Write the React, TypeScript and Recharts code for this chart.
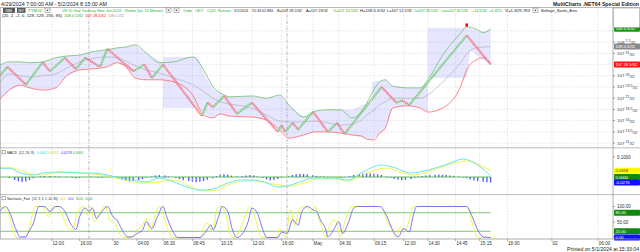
import React from 'react';
import { ComposedChart, Line, Area, Bar, XAxis, YAxis, ReferenceLine, ReferenceDot } from 'recharts';

const FONT = '"Liberation Sans", Arial, Helvetica, sans-serif';
const W = 640;
const H = 252;
const AXIS_W = 27;
const X_DOMAIN: [number, number] = [0, 331];

// ---------- time axis (renko brick index) ----------
const timeTickBars = [28, 43, 61, 74, 88, 104, 119, 136, 152, 169, 183, 202, 218, 231, 246, 259, 274, 298, 323];
const timeTickLabels = ['12:00', '16:00', '30', '04:00', '06:30', '08:45', '10:15', '12:00', '16:00', 'May', '04:30', '09:15', '12:00', '14:30', '14:45', '15:15', '18:00', '02', '06:00'];
const sessionBreakBars = [48, 155];

// ---------- price panel (price in 32nds above 107) ----------
const priceGridValues = [11, 13.5, 16, 18.5, 21, 23.5, 26, 28.5, 31, 33.5, 36];
const priceTickValues = [11, 13.5, 16, 18.5, 21, 23.5, 26, 31, 33.5];

const renkoPivotBars = [0, 4, 14, 23, 27, 35, 41, 46, 54, 58, 72, 78, 82, 88, 109, 112, 115, 121, 128, 136, 150, 152, 154, 158, 161, 169, 177, 182, 186, 206, 214, 217, 221, 252, 265];
const renkoPivotPrices = [26, 28, 24, 29, 27, 30, 27.5, 30, 28, 32, 27, 28.5, 25.5, 28.5, 17, 20, 19, 21.5, 17.5, 20, 13.5, 15, 13.5, 15.5, 14, 18, 13.5, 15.5, 13, 23.5, 20, 20.5, 19.5, 35, 28.5];

const bandBars = [0, 5, 11, 16, 23, 30, 36, 43, 49, 58, 63, 68, 73, 79, 86, 94, 104, 110, 115, 119, 124, 136, 144, 151, 156, 164, 170, 177, 184, 190, 195, 198, 202, 205, 208, 212, 220, 227, 231, 239, 249, 252, 257, 261, 265];
const upperBand = [28.4, 29.1, 29.1, 28.9, 29.1, 30.0, 30.4, 30.6, 31.3, 31.8, 32.2, 32.4, 32.9, 31.1, 28.9, 29.1, 30.2, 27.3, 23.5, 22.2, 21.3, 21.5, 21.0, 21.7, 19.5, 16.8, 18.1, 18.4, 18.4, 16.6, 17.9, 19.9, 23.0, 24.6, 25.1, 23.7, 23.3, 23.3, 25.1, 30.6, 35.6, 36.9, 36.4, 35.6, 36.5];
const midBand = [24.4, 26.4, 26.0, 25.7, 26.0, 26.4, 27.7, 29.1, 29.75, 30.2, 30.0, 29.3, 28.2, 27.3, 26.6, 25.5, 24.0, 22.5, 21.0, 20.2, 19.7, 18.8, 17.25, 15.9, 15.7, 15.7, 15.9, 15.5, 15.0, 15.2, 16.1, 17.25, 18.4, 19.5, 20.2, 21.0, 21.0, 21.0, 21.7, 24.6, 29.1, 30.9, 32.2, 32.4, 32.5];
const lowerBand = [20.8, 22.8, 23.9, 23.3, 22.8, 23.3, 26.0, 27.3, 27.5, 28.0, 28.9, 28.0, 25.5, 25.1, 25.1, 24.6, 21.7, 17.25, 16.6, 17.5, 17.0, 16.8, 16.1, 13.9, 12.1, 12.8, 13.5, 13.5, 13.2, 12.8, 12.6, 11.9, 11.7, 13.2, 14.3, 18.8, 19.3, 18.8, 17.9, 18.8, 23.9, 27.3, 29.5, 30.0, 28.5];

const fillBars = [0, 5, 11, 16, 23, 30, 36, 43, 49, 58, 63, 68, 73, 79, 88, 88, 107, 111, 115, 119, 124, 136, 144, 151, 156, 164, 170, 177, 184, 190, 198, 201, 201, 208, 212, 220, 227, 231, 231, 252, 254, 259, 265];
const fillTop = [28.4, 29.1, 29.1, 28.9, 29.1, 30.0, 30.4, 30.6, 31.3, 31.8, 32.2, 32.4, 32.9, 31.1, 28.9, 30.2, 30.2, 25.7, 23.0, 22.2, 21.3, 21.5, 21.0, 21.7, 19.5, 16.8, 18.1, 18.4, 18.4, 18.4, 19.9, 19.9, 24.6, 25.1, 23.7, 23.3, 23.3, 24.6, 36.7, 36.7, 36.6, 35.8, 36.2];
const fillBottom = [20.8, 22.8, 23.9, 23.3, 22.8, 23.3, 26.0, 27.3, 27.5, 28.0, 28.9, 28.0, 25.5, 25.1, 25.1, 18.8, 18.8, 17.25, 16.6, 17.5, 17.0, 16.8, 16.1, 13.9, 12.1, 12.8, 13.5, 13.5, 13.2, 12.8, 11.9, 11.7, 11.7, 14.3, 18.8, 19.3, 18.8, 17.9, 25.5, 25.5, 31.8, 30.0, 28.5];

const signalMarkerBar = 252;
const signalMarkerPrice = 37.3;
const priceBadgeValues = [36.5, 32.5, 28.5];

// ---------- MACD panel ----------
const macdBars = [0, 5, 11, 18, 23, 32, 42, 49, 58, 65, 72, 79, 86, 94, 101, 108, 115, 123, 130, 137, 144, 150, 155, 162, 169, 173, 180, 188, 195, 206, 212, 222, 231, 242, 250, 258, 265];
const macdValues = [0.0435, 0.0435, 0.02, 0.01, 0.02, 0.025, 0.02, 0.02, 0.01, -0.005, -0.015, -0.025, -0.005, -0.025, -0.05, -0.065, -0.06, -0.03, -0.015, -0.015, -0.03, -0.05, -0.045, -0.025, -0.005, -0.005, -0.005, -0.015, 0.02, 0.06, 0.05, 0.02, 0.035, 0.065, 0.09, 0.06, 0.0041];
const signalBars = [0, 7, 15, 22, 29, 36, 43, 50, 59, 69, 77, 85, 94, 101, 110, 117, 126, 135, 142, 150, 157, 164, 171, 180, 188, 198, 209, 216, 223, 234, 245, 252, 259, 265];
const signalValues = [0.05, 0.045, 0.02, 0.01, 0.02, 0.025, 0.02, 0.015, 0.005, -0.02, -0.03, -0.025, -0.015, -0.04, -0.07, -0.065, -0.03, -0.02, -0.025, -0.04, -0.045, -0.03, -0.01, -0.01, -0.02, 0.02, 0.045, 0.025, 0.01, 0.035, 0.07, 0.08, 0.06, 0.0318];
const histBars = [5, 8, 10, 12, 14, 16, 18, 22, 24, 27, 30, 32, 36, 39, 41, 43, 49, 53, 55, 59, 64, 66, 68, 70, 72, 75, 77, 79, 82, 84, 86, 89, 91, 95, 97, 99, 102, 104, 106, 108, 110, 112, 115, 117, 119, 121, 123, 125, 128, 131, 133, 135, 137, 139, 142, 144, 146, 148, 150, 152, 156, 158, 160, 162, 164, 166, 169, 171, 173, 175, 177, 179, 182, 184, 186, 189, 191, 194, 196, 198, 200, 202, 204, 206, 209, 211, 213, 215, 217, 219, 222, 224, 226, 228, 230, 232, 235, 237, 239, 241, 243, 245, 248, 250, 252, 254, 256, 258, 261, 263, 265];
const histValues = [-0.005, -0.015, -0.022, -0.025, -0.022, -0.015, -0.006, 0.003, 0.005, 0.005, 0.003, 0.002, 0.001, -0.004, -0.006, -0.004, 0.002, -0.004, -0.003, 0.001, -0.008, -0.015, -0.02, -0.022, -0.02, -0.015, -0.01, -0.004, 0.003, 0.008, 0.01, 0.008, 0.003, -0.004, -0.01, -0.016, -0.02, -0.024, -0.026, -0.024, -0.02, -0.014, -0.006, 0.005, 0.012, 0.014, 0.012, 0.007, 0.002, 0.004, 0.008, 0.01, 0.008, 0.003, -0.005, -0.012, -0.016, -0.015, -0.01, -0.003, 0.004, 0.01, 0.014, 0.016, 0.016, 0.014, 0.01, 0.006, 0.003, 0.002, -0.003, -0.003, -0.002, -0.004, -0.002, 0.004, 0.01, 0.014, 0.017, 0.018, 0.017, 0.016, 0.014, 0.01, 0.003, -0.004, -0.01, -0.014, -0.016, -0.014, -0.01, -0.004, 0.002, 0.005, 0.008, 0.01, 0.011, 0.012, 0.011, 0.01, 0.008, 0.006, 0.003, -0.002, -0.006, -0.012, -0.017, -0.021, -0.024, -0.026, -0.028];
const macdTickValues = [0.1];
const macdBadgeValues = [0.0318, 0, -0.0276];

// ---------- Stochastic panel ----------
const stochDBars = [0, 3, 5, 8, 11, 14, 15, 18, 21, 24, 27, 30, 32, 35, 38, 41, 43, 46, 48, 50, 52, 55, 58, 61, 63, 66, 69, 71, 74, 77, 79, 82, 85, 88, 90, 93, 96, 108, 111, 114, 115, 118, 120, 123, 125, 128, 131, 134, 136, 139, 142, 144, 150, 152, 155, 158, 161, 163, 166, 169, 171, 173, 176, 177, 180, 183, 185, 188, 191, 193, 205, 209, 212, 215, 218, 221, 223, 225, 252, 255, 258, 261, 265];
const stochDValues = [84, 100, 84, 35, 2, 2, 13, 46, 100, 100, 84, 100, 100, 84, 46, 26, 67, 95, 84, 95, 62, 84, 100, 67, 57, 24, 2, 2, 13, 24, 51, 29, 67, 100, 67, 24, 0, 0, 18, 40, 24, 67, 100, 84, 35, 0, 13, 51, 95, 78, 24, 0, 0, 18, 13, 57, 40, 84, 100, 89, 84, 57, 24, 2, 24, 51, 13, 46, 95, 100, 100, 67, 24, 2, 29, 18, 67, 100, 100, 67, 24, 2, 0];
const stochKBars = [0, 4, 7, 9, 14, 16, 19, 23, 26, 29, 31, 34, 37, 39, 42, 45, 47, 49, 51, 54, 57, 59, 62, 65, 68, 71, 74, 77, 79, 81, 84, 86, 89, 92, 94, 108, 110, 112, 115, 117, 119, 122, 124, 126, 129, 132, 135, 138, 141, 143, 149, 151, 154, 157, 159, 162, 165, 168, 170, 173, 176, 178, 181, 184, 186, 189, 191, 206, 209, 212, 214, 216, 219, 221, 223, 252, 255, 258, 265];
const stochKValues = [100, 84, 24, 0, 0, 35, 100, 100, 67, 100, 100, 67, 29, 24, 84, 100, 73, 100, 51, 84, 100, 57, 46, 8, 0, 0, 24, 40, 62, 18, 78, 100, 57, 8, 0, 0, 35, 46, 18, 89, 100, 73, 13, 0, 18, 62, 100, 57, 2, 0, 0, 29, 2, 89, 40, 95, 100, 84, 100, 46, 2, 40, 57, 2, 46, 95, 100, 100, 51, 24, 2, 35, 24, 57, 100, 100, 46, 0, 0];
const stochTickValues = [100, 50];
const stochLevels = [80, 20];
const stochBadgeValues = [80, 20, 0];

// ---------- derived tables for the library ----------
const lastBar = renkoPivotBars[renkoPivotBars.length - 1];
const bandRows = bandBars.map((x, i) => ({ x, upper: upperBand[i], mid: midBand[i], lower: lowerBand[i] }));
const fillRows = fillBars.map((x, i) => ({ x, area: [fillBottom[i], fillTop[i]] }));
const macdRows = [
  ...macdBars.map((x, i) => ({ x, macd: macdValues[i] } as any)),
  ...signalBars.map((x, i) => ({ x, signal: signalValues[i] } as any)),
].sort((a, b) => a.x - b.x);
const histRows = histBars.map((x, i) => ({ x, hist: histValues[i] }));
const stochRows = [
  ...stochKBars.map((x, i) => ({ x, k: stochKValues[i] } as any)),
  ...stochDBars.map((x, i) => ({ x, d: stochDValues[i] } as any)),
].sort((a, b) => a.x - b.x);

const fmtPrice = (v: number) => (v >= 32 ? `108 ${v - 32}/32` : `107 ${v}/32`);

// approximate Arial advance widths (em) to fit text into its measured span
const charEm = (ch: string) => {
  if (/[0-9]/.test(ch)) return 0.556;
  if (/[ .,:;/]/.test(ch)) return 0.278;
  if (/[il]/.test(ch)) return 0.222;
  if (/[tfj]/.test(ch)) return 0.278;
  if (ch === 'r' || ch === '(' || ch === ')' || ch === '-') return 0.333;
  if (ch === 'm') return 0.833;
  if (ch === 'w') return 0.722;
  if (ch === '+' || ch === '=') return 0.584;
  if (ch === '%') return 0.889;
  if (ch === '_') return 0.556;
  if (ch === 'M') return 0.833;
  if (/[A-Z]/.test(ch)) return 0.68;
  return 0.53;
};
const estEm = (s: string) => s.split('').reduce((a, c) => a + charEm(c), 0);

// ---------- layout ----------
type PanelDef = { top: number; height: number; mt: number; mb: number; domain: [number, number] };
const MAIN: PanelDef = { top: 0, height: 148, mt: 8, mb: 0, domain: [9.9, 41.1] };
const MACD_P: PanelDef = { top: 148, height: 47, mt: 0, mb: 0, domain: [-0.09, 0.145] };
const STOCH_P: PanelDef = { top: 195, height: 52, mt: 0, mb: 8, domain: [-4.8, 137.1] };

function Layer({ p, data, yAxis, xAxis, children }: any) {
  return (
    <div style={{ position: 'absolute', left: 0, top: p.top, width: W, height: p.height }}>
      <ComposedChart
        width={W}
        height={p.height}
        data={data}
        margin={{ top: p.mt, right: yAxis ? 0 : AXIS_W, bottom: xAxis ? 0 : p.mb, left: 0 }}
      >
        {xAxis || <XAxis type="number" dataKey="x" domain={X_DOMAIN} allowDataOverflow hide />}
        {yAxis || <YAxis type="number" domain={p.domain} allowDataOverflow hide />}
        {children}
      </ComposedChart>
    </div>
  );
}

const vGrid = (pfx: string) => [
  ...timeTickBars.map((b) => (
    <ReferenceLine key={pfx + 'v' + b} x={b} stroke="#d4d4d4" strokeDasharray="1.5 1.5" strokeWidth={0.6} />
  )),
  ...sessionBreakBars.map((b) => (
    <ReferenceLine key={pfx + 's' + b} x={b} stroke="#8c8c8c" strokeDasharray="3 1.2 0.8 1.2" strokeWidth={0.6} />
  )),
];

const makeAxisTick = (fmt: (v: number) => string) => (props: any) => {
  const { x, y, payload } = props;
  return (
    <g>
      <line x1={x} y1={y} x2={x + 2} y2={y} stroke="#666" strokeWidth={0.6} />
      <text x={x + 4} y={y + 1.6} fontSize={4.5} fill="#333" fontFamily={FONT}>
        {fmt(payload.value)}
      </text>
    </g>
  );
};

const PriceTick = (props: any) => {
  const { x, y, payload } = props;
  const v = payload.value;
  const whole = v >= 32 ? 108 : 107;
  const frac = v >= 32 ? v - 32 : v;
  return (
    <g>
      <line x1={x} y1={y} x2={x + 2} y2={y} stroke="#666" strokeWidth={0.6} />
      <text x={x + 4} y={y + 1.5} fontSize={4.4} fill="#333" fontFamily={FONT}>
        {`${whole} `}
        <tspan fontSize={3.6} dy={-1.2}>{frac}</tspan>
        <tspan fontSize={3.6} dy={2}>/32</tspan>
      </text>
    </g>
  );
};

const TimeTick = (props: any) => {
  const { x, y, payload } = props;
  const i = timeTickBars.indexOf(payload.value);
  return (
    <g>
      <line x1={x} y1={y} x2={x} y2={y + 2} stroke="#777" strokeWidth={0.6} />
      <text x={x + 0.6} y={y + 6.2} fontSize={4.6} fill="#333" fontFamily={FONT}>
        {timeTickLabels[i]}
      </text>
    </g>
  );
};

const badge = (key: string, y: number, text: string, bg: string, fg: string) => (
  <ReferenceDot
    key={key}
    x={X_DOMAIN[1]}
    y={y}
    ifOverflow="visible"
    shape={(p: any) => (
      <g>
        <rect x={p.cx + 1} y={p.cy - 3} width={26} height={6} rx={0.8} fill={bg} />
        <text x={p.cx + 2.4} y={p.cy + 1.6} fontSize={4.2} fill={fg} fontFamily={FONT}>
          {text}
        </text>
      </g>
    )}
  />
);

const renkoLegs = renkoPivotBars.slice(1).map((b, i) => {
  const x0 = renkoPivotBars[i];
  const y0 = renkoPivotPrices[i];
  const y1 = renkoPivotPrices[i + 1];
  const up = y1 > y0;
  return (
    <ReferenceLine
      key={'r' + i}
      segment={[{ x: x0, y: y0 }, { x: b, y: y1 }]}
      stroke={up ? '#78cc78' : '#f27a88'}
      strokeWidth={2.3}
      strokeDasharray="1.3 0.6"
      ifOverflow="visible"
    />
  );
});

const GREEN_T = '#1fae1f';

function Txt({ x, y, w, s = 4.2, c = '#222', b = false, a = 'start', children }: any) {
  const str = String(children);
  const em = estEm(str) * (b ? 1.08 : 1);
  const size = w ? Math.min(s, w / em) : s;
  return (
    <text
      x={x}
      y={y}
      fontSize={size}
      fill={c}
      fontWeight={b ? 'bold' : 'normal'}
      textAnchor={a}
      textLength={w}
      lengthAdjust={w ? 'spacingAndGlyphs' : undefined}
      fontFamily={FONT}
    >
      {str}
    </text>
  );
}

function DropBox({ x, y }: { x: number; y: number }) {
  return (
    <g>
      <rect x={x} y={y} width={5} height={4.6} fill="#fff" stroke="#777" strokeWidth={0.5} />
      <path d={`M${x + 1.3} ${y + 1.7} L${x + 3.7} ${y + 1.7} L${x + 2.5} ${y + 3.2} Z`} fill="#333" />
    </g>
  );
}

function Overlay() {
  return (
    <svg width={W} height={H} style={{ position: 'absolute', left: 0, top: 0, pointerEvents: 'none' }}>
      {/* frames */}
      <line x1={0} y1={7.5} x2={W} y2={7.5} stroke="#9a9a9a" strokeWidth={0.7} />
      <line x1={0} y1={147.8} x2={W} y2={147.8} stroke="#a0a0a0" strokeWidth={0.7} />
      <line x1={0} y1={194.6} x2={W} y2={194.6} stroke="#a0a0a0" strokeWidth={0.7} />
      <line x1={613} y1={239} x2={W} y2={239} stroke="#a0a0a0" strokeWidth={0.7} />
      <line x1={0.4} y1={7.5} x2={0.4} y2={239} stroke="#a0a0a0" strokeWidth={0.7} />
      <rect x={613.5} y={8} width={26} height={19.5} fill="#fff" stroke="#9a9a9a" strokeWidth={0.6} />

      {/* title row */}
      <Txt x={1} y={5.6} w={106} s={5.4}>4/29/2024 7:00:00 AM - 5/2/2024 8:15:00 AM</Txt>
      <Txt x={639} y={5.6} w={86} s={5.4} b a="end">MultiCharts .NET64 Special Edition</Txt>

      {/* toolbar row */}
      <rect x={3} y={7.9} width={12} height={5} fill="#5a5a5a" />
      <Txt x={5.5} y={11.9} w={6.5} c="#fff">5M</Txt>
      <rect x={17} y={7.9} width={8.5} height={5} fill="#5a5a5a" />
      <Txt x={18.6} y={11.9} w={5.4} c="#fff">NY</Txt>
      <Txt x={28} y={11.9} w={14} c={GREEN_T}>TYM24</Txt>
      <DropBox x={45} y={8} />
      <Txt x={62} y={11.9} w={59} c={GREEN_T}>US 10-Year Treasury Note Jun 2024</Txt>
      <Txt x={125} y={11.9} w={38} c={GREEN_T}>Renko 1pt, 15 Minutes</Txt>
      <DropBox x={166} y={8} />
      <DropBox x={174} y={8} />
      <Txt x={183} y={11.9} w={9} c={GREEN_T}>Trade</Txt>
      <Txt x={195} y={11.9} w={8.5} c={GREEN_T}>CBOT</Txt>
      <Txt x={207} y={11.9} w={8.5} c={GREEN_T}>CQG</Txt>
      <Txt x={218} y={11.9} w={13} c={GREEN_T}>Futures</Txt>
      <Txt x={234} y={11.9} w={14}>5/1/2024</Txt>
      <Txt x={252} y={11.9} w={21}>15:33:02.884</Txt>
      <Txt x={277} y={11.9} w={25}>B=107 28.5/32</Txt>
      <Txt x={306} y={11.9} w={22}>A=107 29/32</Txt>
      <Txt x={333} y={11.9} w={25} c={GREEN_T}>O=107 14.5/32</Txt>
      <Txt x={360} y={11.9} w={25}>H=108 6.5/32</Txt>
      <Txt x={387} y={11.9} w={25}>L=107 12.5/32</Txt>
      <Txt x={414} y={11.9} w={24} c={GREEN_T}>C=107 28.5/32</Txt>
      <Txt x={441} y={11.9} w={27} c={GREEN_T}>Last=107 28.5/32</Txt>
      <Txt x={472} y={11.9} w={15} c={GREEN_T}>+14.5/32</Txt>
      <Txt x={489} y={11.9} w={13} c={GREEN_T}>+0.42%</Txt>
      <Txt x={505} y={11.9} w={25}>V=1,829,783</Txt>
      <DropBox x={533} y={8} />
      <Txt x={541} y={11.9} w={36}>Bollinger_Bands_Area</Txt>

      {/* study legend row */}
      <Txt x={2} y={17.4} w={60}>(20, 2, -2, 0, 128, 128, 255, 85)</Txt>
      <Txt x={64} y={17.4} w={19} c={GREEN_T}>108 4.5/32</Txt>
      <Txt x={85} y={17.4} w={21} c="#ee1111">107 28.5/32</Txt>
      <Txt x={108} y={17.4} w={16} c="#999">108 0.5/32</Txt>

      {/* MACD legend */}
      <rect x={2} y={150.4} width={3.4} height={3.4} fill="#fff" stroke="#666" strokeWidth={0.5} />
      <Txt x={7} y={153.9} w={10}>MACD</Txt>
      <Txt x={19} y={153.9} w={15}>(12, 26, 9)</Txt>
      <Txt x={37} y={153.9} w={10} c="#2fd0e0">0.0041</Txt>
      <Txt x={48.5} y={153.9} w={10} c="#d0d000">0.0318</Txt>
      <Txt x={60} y={153.9} w={12} c="#3030ff">-0.0276</Txt>
      <Txt x={73} y={153.9} w={10} c={GREEN_T}>0.0000</Txt>

      {/* Stochastic legend */}
      <rect x={2} y={196.4} width={3.4} height={3.4} fill="#fff" stroke="#666" strokeWidth={0.5} />
      <Txt x={7} y={199.9} w={23}>Stochastic_Fast</Txt>
      <Txt x={32} y={199.9} w={26}>(14, 3, 3, 1, 20, 80)</Txt>
      <Txt x={60} y={199.9} w={5.5} c="#d0d000">0.00</Txt>
      <Txt x={68} y={199.9} w={5.5} c="#3030ff">0.00</Txt>
      <Txt x={76} y={199.9} w={7} c={GREEN_T}>80.00</Txt>
      <Txt x={85} y={199.9} w={7.5} c={GREEN_T}>20.00</Txt>

      <Txt x={639} y={250.6} w={72} s={4.8} a="end">Printed on 5/1/2024 at 15:33:04</Txt>
    </svg>
  );
}

export default function App() {
  const priceBadgeStyle = [
    { bg: '#159a15', fg: '#fff' },
    { bg: '#8a8a8a', fg: '#fff' },
    { bg: '#ff1010', fg: '#fff' },
  ];
  const macdBadgeStyle = [
    { bg: '#ffff00', fg: '#333' },
    { bg: '#128a12', fg: '#fff' },
    { bg: '#1010ff', fg: '#fff' },
  ];
  const stochBadgeStyle = [
    { bg: '#128a12', fg: '#fff' },
    { bg: '#128a12', fg: '#fff' },
    { bg: '#1010ff', fg: '#fff' },
  ];

  return (
    <div style={{ position: 'absolute', left: 0, top: 0, width: W, height: H, background: '#fff', overflow: 'hidden' }}>
      {/* ===== price panel ===== */}
      <Layer p={MAIN} data={bandRows}>
        {vGrid('m')}
        {priceGridValues.map((v) => (
          <ReferenceLine key={'h' + v} y={v} stroke="#d4d4d4" strokeDasharray="1.5 1.5" strokeWidth={0.6} />
        ))}
      </Layer>
      <Layer p={MAIN} data={fillRows}>
        <Area type="linear" dataKey="area" stroke="none" fill="#8080ff" fillOpacity={0.2} isAnimationActive={false} />
      </Layer>
      <Layer
        p={MAIN}
        data={bandRows}
        yAxis={
          <YAxis
            type="number"
            orientation="right"
            width={AXIS_W}
            domain={MAIN.domain}
            allowDataOverflow
            ticks={priceTickValues}
            interval={0}
            tickSize={0}
            tickMargin={0}
            tickLine={false}
            axisLine={{ stroke: '#8a8a8a', strokeWidth: 0.7 }}
            tick={PriceTick}
          />
        }
      >
        <Line type="monotone" dataKey="mid" stroke="#a8a8b0" strokeWidth={0.6} dot={false} isAnimationActive={false} />
        <Line type="monotone" dataKey="upper" stroke="#5fb85f" strokeWidth={0.7} dot={false} isAnimationActive={false} />
        <Line type="monotone" dataKey="lower" stroke="#ff5555" strokeWidth={0.7} dot={false} isAnimationActive={false} />
        {renkoLegs}
        <ReferenceDot
          x={signalMarkerBar}
          y={signalMarkerPrice}
          ifOverflow="visible"
          shape={(p: any) => <rect x={p.cx - 1.3} y={p.cy - 1.6} width={2.6} height={3.2} fill="#ff0000" />}
        />
        {priceBadgeValues.map((v, i) =>
          badge('pb' + i, v, fmtPrice(v), priceBadgeStyle[i].bg, priceBadgeStyle[i].fg)
        )}
      </Layer>

      {/* ===== MACD panel ===== */}
      <Layer p={MACD_P} data={histRows}>
        {vGrid('d')}
        <Bar dataKey="hist" fill="#6060f6" barSize={1.4} isAnimationActive={false} />
      </Layer>
      <Layer
        p={MACD_P}
        data={macdRows}
        yAxis={
          <YAxis
            type="number"
            orientation="right"
            width={AXIS_W}
            domain={MACD_P.domain}
            allowDataOverflow
            ticks={macdTickValues}
            interval={0}
            tickSize={0}
            tickMargin={0}
            tickLine={false}
            axisLine={{ stroke: '#8a8a8a', strokeWidth: 0.7 }}
            tick={makeAxisTick((v) => v.toFixed(4))}
          />
        }
      >
        <ReferenceLine segment={[{ x: 0, y: 0 }, { x: lastBar, y: 0 }]} stroke="#3aa83a" strokeWidth={0.8} />
        <Line type="monotone" dataKey="signal" stroke="#f2f23a" strokeWidth={0.9} dot={false} connectNulls isAnimationActive={false} />
        <Line type="monotone" dataKey="macd" stroke="#52e2f0" strokeWidth={0.9} dot={false} connectNulls isAnimationActive={false} />
        {macdBadgeValues.map((v, i) =>
          badge('mb' + i, v, v.toFixed(4), macdBadgeStyle[i].bg, macdBadgeStyle[i].fg)
        )}
      </Layer>

      {/* ===== Stochastic panel ===== */}
      <Layer
        p={STOCH_P}
        data={stochRows}
        xAxis={
          <XAxis
            type="number"
            dataKey="x"
            domain={X_DOMAIN}
            allowDataOverflow
            ticks={timeTickBars}
            interval={0}
            height={8}
            tickSize={0}
            tickMargin={0}
            tickLine={false}
            axisLine={{ stroke: '#8a8a8a', strokeWidth: 0.7 }}
            tick={TimeTick}
          />
        }
      >
        {vGrid('s')}
        {stochLevels.map((lv) => (
          <ReferenceLine key={'lv' + lv} segment={[{ x: 0, y: lv }, { x: lastBar, y: lv }]} stroke="#5cb85c" strokeWidth={0.8} />
        ))}
      </Layer>
      <Layer
        p={STOCH_P}
        data={stochRows}
        yAxis={
          <YAxis
            type="number"
            orientation="right"
            width={AXIS_W}
            domain={STOCH_P.domain}
            allowDataOverflow
            ticks={stochTickValues}
            interval={0}
            tickSize={0}
            tickMargin={0}
            tickLine={false}
            axisLine={{ stroke: '#8a8a8a', strokeWidth: 0.7 }}
            tick={makeAxisTick((v) => v.toFixed(2))}
          />
        }
      >
        <Line type="monotone" dataKey="k" stroke="#f2f23a" strokeWidth={0.9} dot={false} connectNulls isAnimationActive={false} />
        <Line type="monotone" dataKey="d" stroke="#6a6af2" strokeWidth={0.9} dot={false} connectNulls isAnimationActive={false} />
        {stochBadgeValues.map((v, i) =>
          badge('sb' + i, v, v.toFixed(2), stochBadgeStyle[i].bg, stochBadgeStyle[i].fg)
        )}
      </Layer>

      <Overlay />
    </div>
  );
}
